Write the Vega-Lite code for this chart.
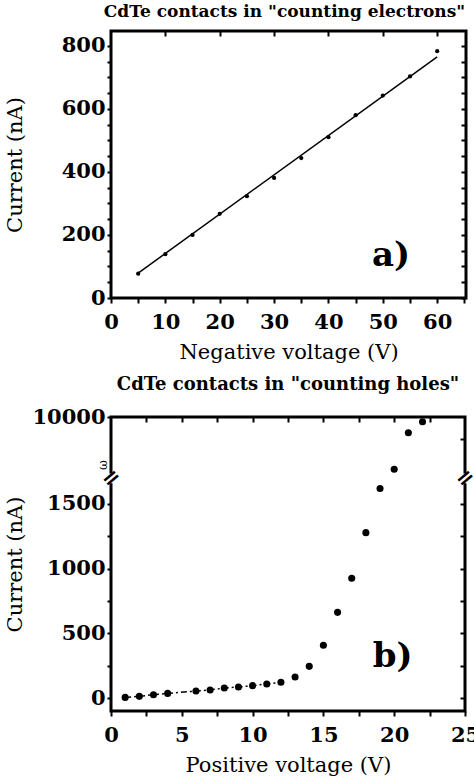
{
  "$schema": "https://vega.github.io/schema/vega-lite/v6.json",
  "padding": {"left": 2, "top": 1, "right": 0, "bottom": 0},
  "spacing": 10,
  "config": {
    "font": "DejaVu Serif",
    "view": {"stroke": "black", "strokeWidth": 3},
    "axis": {
      "domain": false, "grid": false,
      "labelFont": "DejaVu Serif", "labelFontWeight": "bold", "labelFontSize": 21, "labelColor": "black",
      "labelFlush": false, "labelOverlap": false,
      "tickColor": "black", "tickWidth": 2,
      "titleFont": "DejaVu Serif", "titleFontWeight": "normal", "titleFontSize": 21, "titleColor": "black"
    },
    "title": {"font": "DejaVu Serif", "fontSize": 18, "fontWeight": "bold", "color": "black", "anchor": "middle", "offset": 8}
  },
  "datasets": {
    "electrons": [
      {"voltage": 5, "current": 77},
      {"voltage": 10, "current": 139},
      {"voltage": 15, "current": 200},
      {"voltage": 20, "current": 267},
      {"voltage": 25, "current": 323},
      {"voltage": 30, "current": 381},
      {"voltage": 35, "current": 444},
      {"voltage": 40, "current": 510},
      {"voltage": 45, "current": 580},
      {"voltage": 50, "current": 642},
      {"voltage": 55, "current": 703},
      {"voltage": 60, "current": 783}
    ],
    "electronFit": [
      {"voltage": 5, "current": 79},
      {"voltage": 60, "current": 765}
    ],
    "holes": [
      {"voltage": 1, "current": 5},
      {"voltage": 2, "current": 13},
      {"voltage": 3, "current": 26},
      {"voltage": 4, "current": 36},
      {"voltage": 6, "current": 54},
      {"voltage": 7, "current": 62},
      {"voltage": 8, "current": 78},
      {"voltage": 9, "current": 85},
      {"voltage": 10, "current": 96},
      {"voltage": 11, "current": 109},
      {"voltage": 12, "current": 122},
      {"voltage": 13, "current": 163},
      {"voltage": 14, "current": 245},
      {"voltage": 15, "current": 408},
      {"voltage": 16, "current": 662},
      {"voltage": 17, "current": 926},
      {"voltage": 18, "current": 1278},
      {"voltage": 19, "current": 1619},
      {"voltage": 20, "current": 2884},
      {"voltage": 21, "current": 7864},
      {"voltage": 22, "current": 9360}
    ]
  },
  "vconcat": [
    {
      "title": {"text": "CdTe contacts in \"counting electrons\"", "offset": 9, "fontSize": 17, "dx": -4},
      "width": 355,
      "height": 267,
      "layer": [
        {
          "data": {"name": "electronFit"},
          "mark": {"type": "line", "color": "black", "strokeWidth": 1.5},
          "encoding": {
            "x": {"field": "voltage", "type": "quantitative",
                  "scale": {"domain": [0, 65.3], "nice": false, "zero": false},
                  "axis": {"orient": "bottom", "format": "d",
                           "values": [0, 5, 10, 15, 20, 25, 30, 35, 40, 45, 50, 55, 60, 65],
                           "labelExpr": "datum.value % 10 == 0 ? datum.label : ''",
                           "tickSize": 5, "labelPadding": 8,
                           "title": "Negative voltage (V)", "titlePadding": 9}},
            "y": {"field": "current", "type": "quantitative",
                  "scale": {"domain": [0, 847], "nice": false, "zero": false},
                  "axis": {"orient": "left", "format": "d",
                           "values": [0, 50, 100, 150, 200, 250, 300, 350, 400, 450, 500, 550, 600, 650, 700, 750, 800],
                           "labelExpr": "datum.value % 200 == 0 ? datum.label : ''",
                           "tickSize": 4, "labelPadding": 2,
                           "title": "Current (nA)", "titleX": -96, "titleBaseline": "middle"}}
          }
        },
        {
          "data": {"name": "electrons"},
          "mark": {"type": "circle", "color": "black", "size": 18, "opacity": 1},
          "encoding": {
            "x": {"field": "voltage", "type": "quantitative",
                  "axis": {"orient": "top", "values": [10, 20, 30, 40, 50, 60], "labels": false, "tickSize": -5, "title": null}},
            "y": {"field": "current", "type": "quantitative",
                  "axis": {"orient": "right", "values": [0, 50, 100, 150, 200, 250, 300, 350, 400, 450, 500, 550, 600, 650, 700, 750, 800],
                           "labels": false, "tickSize": -5, "title": null}}
          }
        },
        {
          "data": {"values": [{"label": "a)"}]},
          "mark": {"type": "text", "fontSize": 34, "fontWeight": "bold", "color": "black", "baseline": "middle"},
          "encoding": {
            "x": {"datum": 51.5, "type": "quantitative", "axis": null},
            "y": {"datum": 133, "type": "quantitative", "axis": null},
            "text": {"field": "label"}
          }
        }
      ],
      "resolve": {"axis": {"x": "independent", "y": "independent"}}
    },
    {
      "title": {"text": "CdTe contacts in \"counting holes\"", "offset": 12},
      "width": 354,
      "height": 294,
      "layer": [
        {
          "data": {"name": "holes"},
          "transform": [{"filter": "datum.voltage <= 12"}],
          "mark": {"type": "line", "color": "black", "strokeWidth": 1.5, "strokeDash": [6, 3, 2, 3]},
          "encoding": {
            "x": {"field": "voltage", "type": "quantitative",
                  "scale": {"domain": [0, 25], "nice": false, "zero": false},
                  "axis": {"orient": "bottom", "format": "d",
                           "values": [0, 2.5, 5, 7.5, 10, 12.5, 15, 17.5, 20, 22.5, 25],
                           "labelExpr": "datum.value % 5 == 0 ? datum.label : ''",
                           "tickSize": 5, "labelPadding": 8,
                           "title": "Positive voltage (V)", "titlePadding": 9}},
            "y": {"field": "current", "type": "quantitative",
                  "scale": {"domain": [-100, 1700, 10000], "range": [294, 61, 0], "nice": false, "zero": false},
                  "axis": {"orient": "left", "format": "d",
                           "values": [0, 250, 500, 750, 1000, 1250, 1500, 10000],
                           "labelExpr": "datum.value % 500 == 0 ? datum.label : ''",
                           "tickSize": 4, "labelPadding": 2,
                           "title": "Current (nA)", "titleX": -96, "titleBaseline": "middle"}}
          }
        },
        {
          "data": {"name": "holes"},
          "mark": {"type": "circle", "color": "black", "size": 50, "opacity": 1},
          "encoding": {
            "x": {"field": "voltage", "type": "quantitative",
                  "axis": {"orient": "top", "values": [2.5, 5, 7.5, 10, 12.5, 15, 17.5, 20, 22.5], "labels": false, "tickSize": -5, "title": null}},
            "y": {"field": "current", "type": "quantitative",
                  "axis": {"orient": "right", "values": [0, 250, 500, 750, 1000, 1250, 1500, 7000],
                           "labels": false, "tickSize": -5, "title": null}}
          }
        },
        {
          "data": {"values": [{"side": 0}, {"side": 25}]},
          "mark": {"type": "rule", "color": "white", "strokeWidth": 7},
          "encoding": {
            "x": {"field": "side", "type": "quantitative", "axis": null},
            "y": {"datum": 1660, "type": "quantitative", "axis": null},
            "y2": {"datum": 2300}
          }
        },
        {
          "data": {"values": [{"side": 0}, {"side": 25}]},
          "mark": {"type": "text", "text": "=", "fontSize": 22, "fontWeight": "bold", "color": "black", "angle": -40, "baseline": "middle"},
          "encoding": {
            "x": {"field": "side", "type": "quantitative", "axis": null},
            "y": {"datum": 1700, "type": "quantitative", "axis": null}
          }
        },
        {
          "data": {"values": [{"label": "ω"}]},
          "mark": {"type": "text", "fontSize": 12, "color": "black", "angle": -90, "baseline": "middle"},
          "encoding": {
            "x": {"datum": -0.55, "type": "quantitative", "axis": null},
            "y": {"datum": 3470, "type": "quantitative", "axis": null},
            "text": {"field": "label"}
          }
        },
        {
          "data": {"values": [{"label": "b)"}]},
          "mark": {"type": "text", "fontSize": 34, "fontWeight": "bold", "color": "black", "baseline": "middle"},
          "encoding": {
            "x": {"datum": 19.9, "type": "quantitative", "axis": null},
            "y": {"datum": 317, "type": "quantitative", "axis": null},
            "text": {"field": "label"}
          }
        }
      ],
      "resolve": {"axis": {"x": "independent", "y": "independent"}}
    }
  ]
}
